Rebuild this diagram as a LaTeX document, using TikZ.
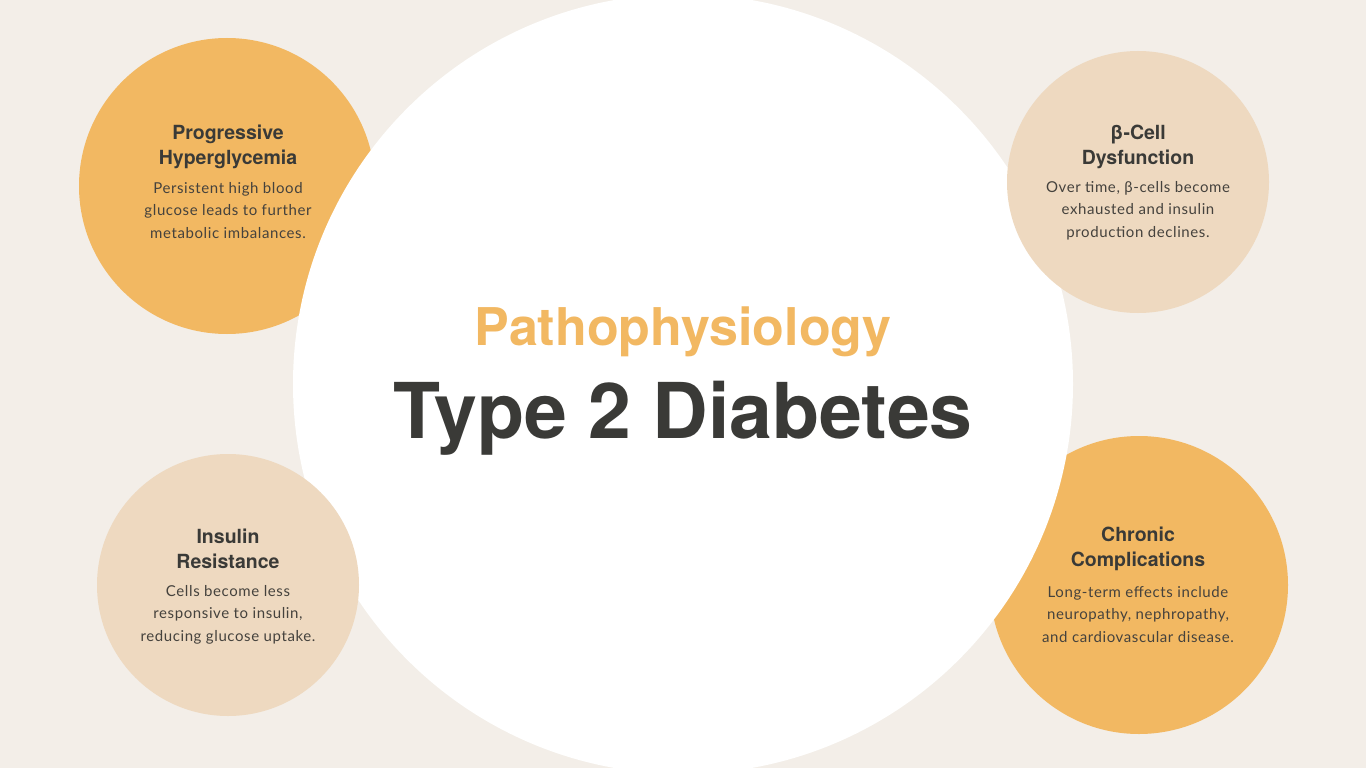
\documentclass[tikz,border=0pt]{standalone}
\usepackage{fontspec}
\setmainfont{Lato}[LetterSpace=4]
\newfontfamily\headfont{TeX Gyre Heros}
\definecolor{bgc}{HTML}{F3EEE8}
\definecolor{orangec}{HTML}{F2B862}
\definecolor{beigec}{HTML}{EED9C0}
\definecolor{darkc}{HTML}{3A3A37}
\definecolor{bodyc}{HTML}{45423D}
\tikzset{
  orangecirc/.style={circle, fill=orangec, inner sep=0pt, minimum size=#1},
  beigecirc/.style={circle, fill=beigec, inner sep=0pt, minimum size=#1},
  whitecirc/.style={circle, fill=white, inner sep=0pt, minimum size=#1},
  headtxt/.style={align=center, text=darkc, inner sep=0pt, font=\headfont\bfseries\fontsize{19.5}{25}\selectfont},
  bodytxt/.style={align=center, text=bodyc, inner sep=0pt, font=\fontsize{15}{22.5}\selectfont},
}
\begin{document}
\begin{tikzpicture}[x=1pt,y=-1pt]
\useasboundingbox (0,0) rectangle (1366,768);
\clip (0,0) rectangle (1366,768);
\fill[bgc] (0,0) rectangle (1366,768);
% orange circles (behind)
\node[orangecirc=296pt] (tl) at (227,186) {};
\node[orangecirc=298pt] (br) at (1139,585) {};
% big white circle
\node[whitecirc=780pt] (mid) at (683,384) {};
% beige circles (in front)
\node[beigecirc=262pt] (tr) at (1138,182) {};
\node[beigecirc=262pt] (bl) at (228,585) {};
% centre titles
\node[text=orangec, inner sep=0pt, font=\headfont\bfseries\fontsize{52}{60}\selectfont] (sub) at (683,332) {Pathophysiology};
\node[text=darkc, inner sep=0pt, font=\headfont\bfseries\fontsize{77}{90}\selectfont] (title) at (683,418) {Type 2 Diabetes};
% top-left
\node[headtxt] (tlh) at (228,147) {Progressive\\Hyperglycemia};
\node[bodytxt] (tlb) at (228,210.5) {Persistent high blood\\glucose leads to further\\metabolic imbalances.};
% top-right
\node[headtxt] (trh) at (1138,147) {β-Cell\\Dysfunction};
\node[bodytxt] (trb) at (1138,210.5) {Over time, β-cells become\\exhausted and insulin\\production declines.};
% bottom-left
\node[headtxt] (blh) at (228,549) {Insulin\\Resistance};
\node[bodytxt] (blb) at (228,614.5) {Cells become less\\responsive to insulin,\\reducing glucose uptake.};
% bottom-right
\node[headtxt] (brh) at (1138,549) {Chronic\\Complications};
\node[bodytxt] (brb) at (1138,614.5) {Long-term effects include\\neuropathy, nephropathy,\\and cardiovascular disease.};
\end{tikzpicture}
\end{document}
